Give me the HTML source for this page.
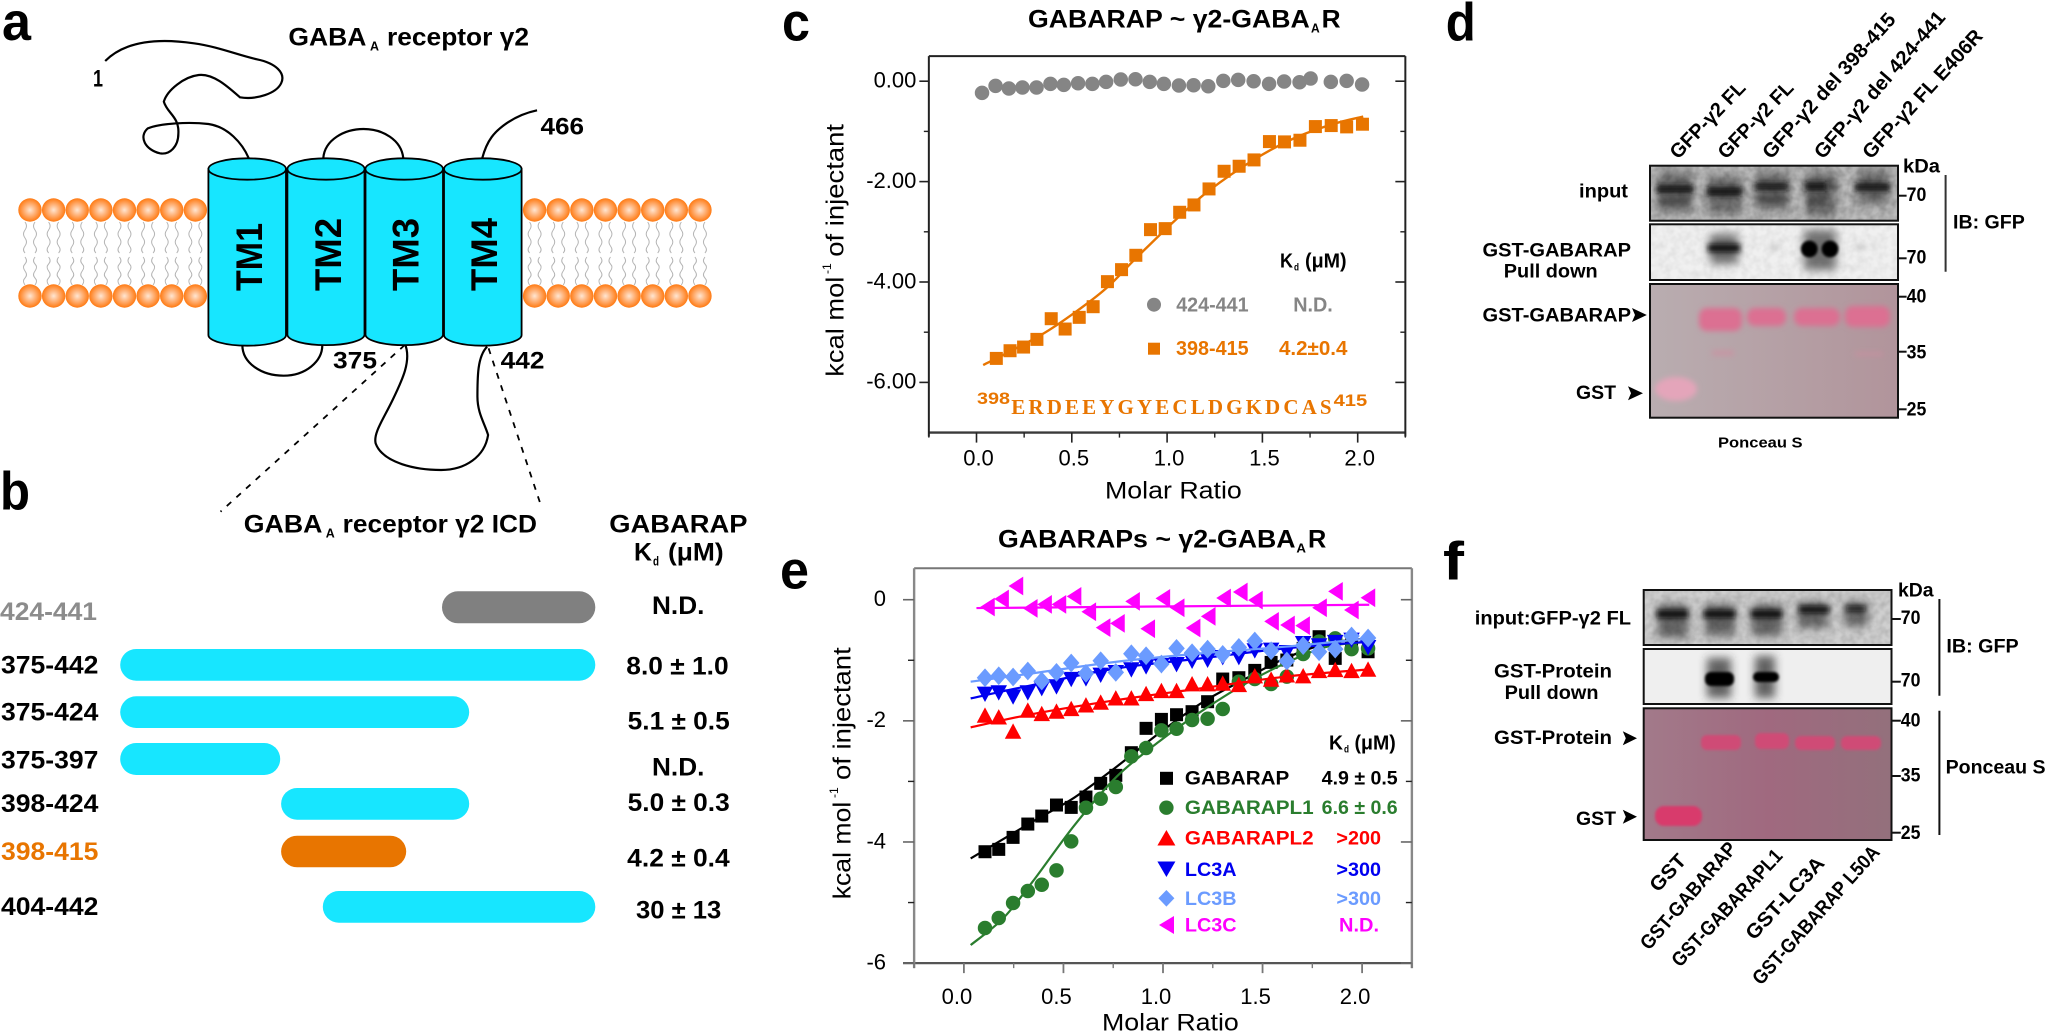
<!DOCTYPE html>
<html lang="en">
<head>
<meta charset="utf-8">
<title>GABARAP binding to GABA-A receptor gamma2</title>
<style>
html,body{margin:0;padding:0;background:#fff}
svg{display:block}
text{font-family:"Liberation Sans","DejaVu Sans",sans-serif;fill:#000}
.b{font-weight:700}
.t{font-weight:700;font-size:25px}
.s{font-weight:700;font-size:19px}
.r{font-weight:700;font-size:20px}
.sub{font-weight:700;font-size:13px}
.p{font-weight:700;font-size:54px}
.m{font-weight:700;font-size:20px}
.o{fill:#e87500}
.g{fill:#858585}
.nsc path,.nsc line{vector-effect:non-scaling-stroke}
</style>
</head>
<body>
<svg id="fig" xmlns="http://www.w3.org/2000/svg" width="2046" height="1032" viewBox="0 0 2046 1032">
<defs>
<radialGradient id="head" cx="50%" cy="50%" r="50%">
<stop offset="0" stop-color="#ffe6d2"/><stop offset=".45" stop-color="#ffb47c"/><stop offset="1" stop-color="#ff7a12"/>
</radialGradient>
<filter id="b1" x="-30%" y="-60%" width="160%" height="220%"><feGaussianBlur stdDeviation="1.3"/></filter>
<filter id="b2" x="-30%" y="-80%" width="160%" height="260%"><feGaussianBlur stdDeviation="2.6"/></filter>
<filter id="b5" x="-50%" y="-50%" width="200%" height="200%"><feGaussianBlur stdDeviation="4.5"/></filter>
<filter id="noise" x="0" y="0" width="100%" height="100%"><feTurbulence type="fractalNoise" baseFrequency="0.14" numOctaves="2" seed="4"/><feColorMatrix type="matrix" values="0 0 0 0 0  0 0 0 0 0  0 0 0 0 0  0 0 0 .9 -.28"/></filter>
<linearGradient id="pdbg" x1="0" x2="1" y1="0" y2="0"><stop offset="0" stop-color="#b9adb0"/><stop offset="1" stop-color="#b1949b"/></linearGradient>
<linearGradient id="pfbg" x1="0" x2="1" y1="0" y2="0"><stop offset="0" stop-color="#a27a8a"/><stop offset=".5" stop-color="#a0697f"/><stop offset="1" stop-color="#93707c"/></linearGradient>
<clipPath id="cd1"><rect x="1650" y="165.7" width="248" height="55"/></clipPath>
<clipPath id="cd2"><rect x="1650" y="224.3" width="248" height="55.7"/></clipPath>
<clipPath id="cd3"><rect x="1650" y="284" width="248" height="133.7"/></clipPath>
<clipPath id="cf1"><rect x="1643.7" y="590" width="247.8" height="55"/></clipPath>
<clipPath id="cf2"><rect x="1643.7" y="649" width="247.8" height="55"/></clipPath>
<clipPath id="cf3"><rect x="1643.7" y="708.3" width="247.8" height="131.7"/></clipPath>
<g id="tail" fill="none" stroke="#b4b4b4" stroke-width="1">
<path d="M-5,222 q3,4 0,8 t0,8 t0,8 t0,7"/><path d="M5,222 q-3,4 0,8 t0,8 t0,8 t0,7"/>
<path d="M-5,257 q3,4 0,7 t0,7 t0,7 t0,7"/><path d="M5,257 q-3,4 0,7 t0,7 t0,7 t0,7"/>
</g>
</defs>

<!-- panel a -->
<g id="panel-a">
<text class="p" x="2" y="40" textLength="29" lengthAdjust="spacingAndGlyphs">a</text>
<text class="t" x="288.4" y="45.7" textLength="78" lengthAdjust="spacingAndGlyphs">GABA</text>
<text class="sub" x="370" y="50.5" textLength="9" lengthAdjust="spacingAndGlyphs">A</text>
<text class="t" x="387" y="45.7" textLength="142" lengthAdjust="spacingAndGlyphs">receptor γ2</text>
<g id="lipids"></g>
<g class="nsc" transform="scale(.4847 .33333)" fill="none" stroke="#000" stroke-width="2.2">
<path d="M217,183 C260,120 330,115 400,130 C450,140 490,165 530,178 C570,190 590,220 580,250 C570,280 530,300 495,292 C470,260 440,220 410,225 C380,230 345,270 338,305 C345,340 370,350 368,400 C368,440 350,465 330,460 C300,450 285,410 305,385 C330,370 390,365 430,372 C470,380 500,430 513,474"/>
<path d="M667,474 C670,420 710,387 750,387 C790,387 828,420 832,474"/>
<path d="M995,474 C1005,420 1020,395 1045,370 C1065,350 1085,338 1108,331"/>
<path d="M500,1035 C500,1090 540,1127 585,1127 C630,1127 665,1085 665,1035"/>
<path d="M835,1030 C850,1080 830,1140 810,1200 C790,1260 770,1300 775,1330 C790,1390 860,1410 910,1410 C960,1410 1000,1370 1007,1305 C1000,1270 985,1240 985,1190 C985,1130 985,1070 1005,1040"/>
<path stroke-width="1.8" stroke-dasharray="6 7" d="M835,1035 L455,1535"/>
<path stroke-width="1.8" stroke-dasharray="6 7" d="M1008,1045 L1118,1525"/>
</g>
<g fill="#17e6ff" stroke="#000" stroke-width="1.8">
<g><path d="M208.4,169 V335 A38.8,10.7 0 0 0 286,335 V169 Z"/><ellipse cx="247.2" cy="169" rx="38.8" ry="10.7"/></g>
<g><path d="M287.4,169 V335 A38.6,10.7 0 0 0 364.5,335 V169 Z"/><ellipse cx="326" cy="169" rx="38.6" ry="10.7"/></g>
<g><path d="M365.5,169 V335 A38.8,10.7 0 0 0 443,335 V169 Z"/><ellipse cx="404.2" cy="169" rx="38.8" ry="10.7"/></g>
<g><path d="M444,169 V335 A38.8,10.7 0 0 0 521.6,335 V169 Z"/><ellipse cx="482.8" cy="169" rx="38.8" ry="10.7"/></g>
</g>
<g class="b" font-size="37">
<text transform="translate(262,291) rotate(-90)" textLength="68" lengthAdjust="spacingAndGlyphs">TM1</text>
<text transform="translate(341,291) rotate(-90)" textLength="73" lengthAdjust="spacingAndGlyphs">TM2</text>
<text transform="translate(418.3,291) rotate(-90)" textLength="73" lengthAdjust="spacingAndGlyphs">TM3</text>
<text transform="translate(497,291) rotate(-90)" textLength="73" lengthAdjust="spacingAndGlyphs">TM4</text>
</g>
<g class="b" font-size="24">
<text x="93" y="86.7" textLength="10" lengthAdjust="spacingAndGlyphs">1</text>
<text x="540.5" y="134.3" textLength="43.5" lengthAdjust="spacingAndGlyphs">466</text>
<text x="333" y="368.3" textLength="44" lengthAdjust="spacingAndGlyphs">375</text>
<text x="500.7" y="368.3" textLength="43.7" lengthAdjust="spacingAndGlyphs">442</text>
</g>
</g>

<!-- panel b -->
<g id="panel-b">
<text class="p" x="0" y="509.3" textLength="30" lengthAdjust="spacingAndGlyphs">b</text>
<text class="t" x="243.8" y="532.3" textLength="78.6" lengthAdjust="spacingAndGlyphs">GABA</text>
<text class="sub" x="325.7" y="537.3" textLength="9" lengthAdjust="spacingAndGlyphs">A</text>
<text class="t" x="342.7" y="532.3" textLength="194.3" lengthAdjust="spacingAndGlyphs">receptor γ2 ICD</text>
<text class="t" x="609.3" y="532.3" textLength="138.2" lengthAdjust="spacingAndGlyphs">GABARAP</text>
<text class="t" x="634" y="560.7" textLength="18" lengthAdjust="spacingAndGlyphs">K</text>
<text class="sub" x="653" y="565.3" textLength="6" lengthAdjust="spacingAndGlyphs">d</text>
<text class="t" x="668" y="560.7" textLength="55.7" lengthAdjust="spacingAndGlyphs">(μM)</text>

<rect x="442" y="591.3" width="153.3" height="32" rx="16" fill="#808080"/>
<rect x="120.2" y="649" width="475.1" height="31.7" rx="16" fill="#17e6ff"/>
<rect x="120.2" y="696.3" width="349" height="31.7" rx="16" fill="#17e6ff"/>
<rect x="120.2" y="743" width="160" height="32" rx="16" fill="#17e6ff"/>
<rect x="281.1" y="788" width="188.1" height="31.7" rx="16" fill="#17e6ff"/>
<rect x="281.1" y="835.7" width="125.1" height="31.6" rx="16" fill="#e87500"/>
<rect x="322.8" y="891" width="272.5" height="31.7" rx="16" fill="#17e6ff"/>

<g class="b" font-size="25">
<text x="0" y="620" textLength="97" lengthAdjust="spacingAndGlyphs" style="fill:#8c8c8c">424-441</text>
<text x="1" y="673.3" textLength="97.4" lengthAdjust="spacingAndGlyphs">375-442</text>
<text x="1" y="720.7" textLength="97.4" lengthAdjust="spacingAndGlyphs">375-424</text>
<text x="1" y="768.7" textLength="97.4" lengthAdjust="spacingAndGlyphs">375-397</text>
<text x="1" y="812" textLength="97.4" lengthAdjust="spacingAndGlyphs">398-424</text>
<text x="1" y="860" textLength="97.4" lengthAdjust="spacingAndGlyphs" class="o">398-415</text>
<text x="1" y="915" textLength="97.4" lengthAdjust="spacingAndGlyphs">404-442</text>
<text x="652" y="614" textLength="52.4" lengthAdjust="spacingAndGlyphs">N.D.</text>
<text x="626.3" y="674.3" textLength="102.3" lengthAdjust="spacingAndGlyphs">8.0 ± 1.0</text>
<text x="627.7" y="729.3" textLength="102" lengthAdjust="spacingAndGlyphs">5.1 ± 0.5</text>
<text x="652" y="775.3" textLength="52.4" lengthAdjust="spacingAndGlyphs">N.D.</text>
<text x="627.7" y="811" textLength="102" lengthAdjust="spacingAndGlyphs">5.0 ± 0.3</text>
<text x="627.2" y="866.7" textLength="102.5" lengthAdjust="spacingAndGlyphs">4.2 ± 0.4</text>
<text x="636" y="918.3" textLength="85.3" lengthAdjust="spacingAndGlyphs">30 ± 13</text>
</g>
</g>

<!-- panel c static text -->
<g id="panel-c">
<text class="p" x="782" y="40.7" textLength="28" lengthAdjust="spacingAndGlyphs">c</text>
<text class="t" x="1028" y="27.3" textLength="281.8" lengthAdjust="spacingAndGlyphs">GABARAP ~ γ2-GABA</text>
<text class="sub" x="1311" y="32.7" textLength="8.7" lengthAdjust="spacingAndGlyphs">A</text>
<text class="t" x="1321.7" y="27.3" textLength="19" lengthAdjust="spacingAndGlyphs">R</text>
<g id="chart-c"></g>
<text font-size="25" transform="translate(843.3,376.7) rotate(-90)" textLength="100" lengthAdjust="spacingAndGlyphs">kcal mol</text>
<text font-size="12" transform="translate(831,274) rotate(-90)">-1</text>
<text font-size="25" transform="translate(843.3,256.7) rotate(-90)" textLength="132.7" lengthAdjust="spacingAndGlyphs">of injectant</text>
<text font-size="24" x="1105" y="498.3" textLength="136.8" lengthAdjust="spacingAndGlyphs">Molar Ratio</text>
<text class="m" x="1280" y="267.7" textLength="13" lengthAdjust="spacingAndGlyphs">K</text>
<text class="b" font-size="10" x="1294" y="270.7" textLength="5" lengthAdjust="spacingAndGlyphs">d</text>
<text class="m" x="1305" y="267.7" textLength="41.6" lengthAdjust="spacingAndGlyphs">(μM)</text>
<circle cx="1154" cy="304.7" r="7" fill="#858585"/>
<text class="m g" x="1176.2" y="311.7" textLength="72.4" lengthAdjust="spacingAndGlyphs">424-441</text>
<text class="m g" x="1293.2" y="311.7" textLength="39.6" lengthAdjust="spacingAndGlyphs">N.D.</text>
<rect x="1148" y="342.7" width="12" height="12" fill="#e87500"/>
<text class="m o" x="1176" y="355" textLength="72.6" lengthAdjust="spacingAndGlyphs">398-415</text>
<text class="m o" x="1279" y="355" textLength="68.4" lengthAdjust="spacingAndGlyphs">4.2±0.4</text>
<text class="b o" font-size="17" x="977" y="404" textLength="33" lengthAdjust="spacingAndGlyphs">398</text>
<text class="o" font-size="21" style="font-family:'Liberation Serif',serif;font-weight:700" x="1011.3" y="414" textLength="320.3" lengthAdjust="spacing">ERDEEYGYECLDGKDCAS</text>
<text class="b o" font-size="17" x="1333.6" y="406" textLength="33.6" lengthAdjust="spacingAndGlyphs">415</text>
</g>

<!-- panel e static text -->
<g id="panel-e">
<text class="p" x="780" y="588.3" textLength="29" lengthAdjust="spacingAndGlyphs">e</text>
<text class="t" x="998" y="547.3" textLength="297.6" lengthAdjust="spacingAndGlyphs">GABARAPs ~ γ2-GABA</text>
<text class="sub" x="1296.4" y="552.3" textLength="9.6" lengthAdjust="spacingAndGlyphs">A</text>
<text class="t" x="1308" y="547.3" textLength="18.3" lengthAdjust="spacingAndGlyphs">R</text>
<g id="chart-e"></g>
<text font-size="25" transform="translate(850.7,899.3) rotate(-90)" textLength="97.6" lengthAdjust="spacingAndGlyphs">kcal mol</text>
<text font-size="12" transform="translate(838,798) rotate(-90)">-1</text>
<text font-size="25" transform="translate(850.7,780) rotate(-90)" textLength="132.7" lengthAdjust="spacingAndGlyphs">of injectant</text>
<text font-size="24" x="1102" y="1030.7" textLength="136.8" lengthAdjust="spacingAndGlyphs">Molar Ratio</text>
<text class="m" x="1329" y="749.3" textLength="14" lengthAdjust="spacingAndGlyphs">K</text>
<text class="b" font-size="10" x="1344" y="752.3" textLength="5" lengthAdjust="spacingAndGlyphs">d</text>
<text class="m" x="1354.5" y="749.3" textLength="41.2" lengthAdjust="spacingAndGlyphs">(μM)</text>
<g class="b" font-size="19">
<rect x="1160" y="771.8" width="13" height="13" fill="#000"/>
<text x="1184.9" y="784.3" textLength="104.4" lengthAdjust="spacingAndGlyphs">GABARAP</text>
<text x="1321.7" y="784.3" textLength="76" lengthAdjust="spacingAndGlyphs">4.9 ± 0.5</text>
<circle cx="1166.4" cy="807.7" r="7.2" fill="#2a7d2e"/>
<text x="1184.9" y="814" textLength="128.8" lengthAdjust="spacingAndGlyphs" style="fill:#2a7d2e">GABARAPL1</text>
<text x="1321.7" y="814" textLength="76" lengthAdjust="spacingAndGlyphs" style="fill:#2a7d2e">6.6 ± 0.6</text>
<polygon points="1166.4,830 1175.4,845.5 1157.4,845.5" fill="#f00"/>
<text x="1184.9" y="844.3" textLength="128.8" lengthAdjust="spacingAndGlyphs" style="fill:#f00">GABARAPL2</text>
<text x="1336.4" y="844.3" textLength="44.6" lengthAdjust="spacingAndGlyphs" style="fill:#f00">&gt;200</text>
<polygon points="1157.4,861.5 1175.4,861.5 1166.4,877" fill="#0000f0"/>
<text x="1184.9" y="876" textLength="51.7" lengthAdjust="spacingAndGlyphs" style="fill:#0000f0">LC3A</text>
<text x="1336.4" y="876" textLength="44.6" lengthAdjust="spacingAndGlyphs" style="fill:#0000f0">&gt;300</text>
<polygon points="1166.4,890 1174.4,898.3 1166.4,906.6 1158.4,898.3" fill="#6b9bff"/>
<text x="1184.9" y="905" textLength="51.7" lengthAdjust="spacingAndGlyphs" style="fill:#6b9bff">LC3B</text>
<text x="1336.4" y="905" textLength="44.6" lengthAdjust="spacingAndGlyphs" style="fill:#6b9bff">&gt;300</text>
<polygon points="1174,916 1174,934 1159,925" fill="#ff00ff"/>
<text x="1184.9" y="931.7" textLength="51.7" lengthAdjust="spacingAndGlyphs" style="fill:#ff00ff">LC3C</text>
<text x="1339" y="931.7" textLength="40" lengthAdjust="spacingAndGlyphs" style="fill:#ff00ff">N.D.</text>
</g>
</g>

<!-- panel d -->
<g id="panel-d">
<text class="p" x="1445.8" y="40.7" textLength="30" lengthAdjust="spacingAndGlyphs">d</text>
<g class="r">
<text transform="translate(1678,160) rotate(-46)" textLength="99" lengthAdjust="spacingAndGlyphs">GFP-γ2 FL</text>
<text transform="translate(1726,160) rotate(-46)" textLength="99" lengthAdjust="spacingAndGlyphs">GFP-γ2 FL</text>
<text transform="translate(1771,160) rotate(-48)" textLength="188" lengthAdjust="spacingAndGlyphs">GFP-γ2 del 398-415</text>
<text transform="translate(1823,160) rotate(-49)" textLength="188" lengthAdjust="spacingAndGlyphs">GFP-γ2 del 424-441</text>
<text transform="translate(1871,160) rotate(-47.5)" textLength="167" lengthAdjust="spacingAndGlyphs">GFP-γ2 FL E406R</text>
</g>
<g>
<g clip-path="url(#cd1)">
<rect x="1650" y="165.7" width="248" height="55" fill="#bcbcbc"/>
<g fill="#5a5a5a" opacity=".8" filter="url(#b5)"><rect x="1658" y="172" width="34" height="40"/><rect x="1708" y="176" width="33" height="38"/><rect x="1756" y="172" width="32" height="38"/><rect x="1806" y="172" width="30" height="44"/><rect x="1858" y="170" width="30" height="34"/></g>
<rect x="1650" y="165.7" width="248" height="55" filter="url(#noise)" opacity=".4"/>
<g fill="#161616" filter="url(#b2)"><rect x="1657" y="185" width="36" height="8"/><rect x="1707" y="187" width="35" height="9"/><rect x="1755" y="183" width="33" height="7"/><rect x="1805" y="182" width="22" height="9"/><rect x="1855" y="183" width="35" height="8"/></g>
<g fill="#333" opacity=".55" filter="url(#b2)"><rect x="1757" y="195" width="30" height="8"/><rect x="1808" y="196" width="18" height="9"/><rect x="1827" y="183" width="10" height="6"/><rect x="1660" y="197" width="30" height="7"/></g>
</g>
<rect x="1650" y="165.7" width="248" height="55" fill="none" stroke="#111" stroke-width="2"/>
</g>
<g>
<g clip-path="url(#cd2)">
<rect x="1650" y="224.3" width="248" height="55.7" fill="#f0f0f0"/>
<rect x="1650" y="224.3" width="248" height="55.7" filter="url(#noise)" opacity=".12"/>
<g fill="#444" opacity=".75" filter="url(#b5)"><rect x="1710" y="234" width="28" height="30"/><rect x="1804" y="230" width="32" height="40"/></g>
<rect x="1708" y="244" width="32" height="8" fill="#111" filter="url(#b2)"/>
<g fill="#000" filter="url(#b1)"><circle cx="1809.3" cy="249" r="8.4"/><circle cx="1830" cy="249" r="8.4"/></g>
<g fill="#bbb" opacity=".5" filter="url(#b2)"><rect x="1768" y="244" width="12" height="6"/><rect x="1855" y="244" width="12" height="6"/></g>
</g>
<rect x="1650" y="224.3" width="248" height="55.7" fill="none" stroke="#111" stroke-width="2"/>
</g>
<g>
<g clip-path="url(#cd3)">
<rect x="1650" y="284" width="248" height="133.7" fill="url(#pdbg)"/>
<g fill="#dc6f92" filter="url(#b2)"><rect x="1699" y="308" width="43" height="23" rx="8"/><rect x="1747" y="308" width="39" height="18" rx="8"/><rect x="1794" y="308" width="46" height="18" rx="8"/><rect x="1845" y="306" width="45" height="21" rx="8"/></g>
<ellipse cx="1676" cy="389" rx="21" ry="12" fill="#e4a5ba" filter="url(#b2)"/>
<g fill="#cf8ea0" opacity=".6" filter="url(#b2)"><rect x="1712" y="350" width="22" height="6"/><rect x="1855" y="352" width="28" height="4"/></g>
</g>
<rect x="1650" y="284" width="248" height="133.7" fill="none" stroke="#111" stroke-width="2"/>
</g>
<g stroke="#111" stroke-width="2">
<line x1="1899" x2="1906.6" y1="195.7" y2="195.7"/><line x1="1899" x2="1906.6" y1="258.3" y2="258.3"/><line x1="1899" x2="1906.6" y1="296.7" y2="296.7"/><line x1="1899" x2="1906.6" y1="351.7" y2="351.7"/><line x1="1899" x2="1906.6" y1="409.3" y2="409.3"/>
</g>
<g class="s">
<text x="1903" y="172.3" textLength="37" lengthAdjust="spacingAndGlyphs">kDa</text>
<text x="1906.6" y="201" textLength="19.7" lengthAdjust="spacingAndGlyphs">70</text>
<text x="1906.6" y="263.3" textLength="19.7" lengthAdjust="spacingAndGlyphs">70</text>
<text x="1906.6" y="302.3" textLength="19.7" lengthAdjust="spacingAndGlyphs">40</text>
<text x="1906.6" y="358.3" textLength="19.7" lengthAdjust="spacingAndGlyphs">35</text>
<text x="1906.6" y="415.7" textLength="19.7" lengthAdjust="spacingAndGlyphs">25</text>
<text x="1953" y="228.3" textLength="71.8" lengthAdjust="spacingAndGlyphs">IB: GFP</text>
<text x="1579" y="197.3" textLength="49" lengthAdjust="spacingAndGlyphs">input</text>
<text x="1482.5" y="256.7" textLength="148.5" lengthAdjust="spacingAndGlyphs">GST-GABARAP</text>
<text x="1503.8" y="277.7" textLength="93.9" lengthAdjust="spacingAndGlyphs">Pull down</text>
<text x="1482.5" y="321.7" textLength="148.5" lengthAdjust="spacingAndGlyphs">GST-GABARAP</text>
<text x="1576" y="399" textLength="40" lengthAdjust="spacingAndGlyphs">GST</text>
</g>
<text class="b" font-size="15" x="1718" y="447.3" textLength="84.6" lengthAdjust="spacingAndGlyphs">Ponceau S</text>
<polygon points="1632,308 1646.8,315 1632,322 1635,315" fill="#000"/>
<polygon points="1628,386.3 1643,393.3 1628,400.3 1631,393.3" fill="#000"/>
<line x1="1945.6" x2="1945.6" y1="175" y2="271.7" stroke="#333" stroke-width="2"/>
</g>

<!-- panel f -->
<g id="panel-f">
<text class="p" x="1443" y="579.3" textLength="21" lengthAdjust="spacingAndGlyphs">f</text>
<g>
<g clip-path="url(#cf1)">
<rect x="1643.7" y="590" width="247.8" height="55" fill="#cfcfcf"/>
<g fill="#4c4c4c" opacity=".8" filter="url(#b5)"><rect x="1658" y="604" width="30" height="34"/><rect x="1705" y="604" width="30" height="32"/><rect x="1752" y="604" width="30" height="32"/><rect x="1798" y="602" width="30" height="26"/><rect x="1844" y="602" width="24" height="24"/></g>
<rect x="1643.7" y="590" width="247.8" height="55" filter="url(#noise)" opacity=".25"/>
<g fill="#0d0d0d" filter="url(#b2)"><rect x="1657" y="610" width="31" height="8"/><rect x="1704" y="610" width="31" height="8"/><rect x="1751" y="610" width="31" height="8"/><rect x="1799" y="606" width="30" height="7"/><rect x="1847" y="606" width="18" height="5"/></g>
</g>
<rect x="1643.7" y="590" width="247.8" height="55" fill="none" stroke="#111" stroke-width="2"/>
</g>
<g>
<g clip-path="url(#cf2)">
<rect x="1643.7" y="649" width="247.8" height="55" fill="#efefef"/>
<g fill="#333" opacity=".75" filter="url(#b5)"><rect x="1707" y="658" width="24" height="40"/><rect x="1755" y="656" width="20" height="42"/></g>
<g fill="#000" filter="url(#b1)"><rect x="1705" y="672" width="29" height="14" rx="6"/><rect x="1753" y="672" width="26" height="10" rx="5"/></g>
</g>
<rect x="1643.7" y="649" width="247.8" height="55" fill="none" stroke="#111" stroke-width="2"/>
</g>
<g>
<g clip-path="url(#cf3)">
<rect x="1643.7" y="708.3" width="247.8" height="131.7" fill="url(#pfbg)"/>
<g fill="#cf4c76" filter="url(#b1)"><rect x="1701" y="735" width="40" height="15" rx="6"/><rect x="1755" y="733" width="34" height="16" rx="6"/><rect x="1795" y="736" width="40" height="14" rx="6"/><rect x="1841" y="736" width="40" height="14" rx="6"/></g>
<rect x="1655" y="806" width="47" height="20" rx="9" fill="#d83a6c" filter="url(#b1)"/>
</g>
<rect x="1643.7" y="708.3" width="247.8" height="131.7" fill="none" stroke="#111" stroke-width="2"/>
</g>
<g stroke="#111" stroke-width="2">
<line x1="1892" x2="1900.8" y1="619" y2="619"/><line x1="1892" x2="1900.8" y1="681.7" y2="681.7"/><line x1="1892" x2="1900.8" y1="720.7" y2="720.7"/><line x1="1892" x2="1900.8" y1="776" y2="776"/><line x1="1892" x2="1900.8" y1="832.7" y2="832.7"/>
</g>
<g class="s">
<text x="1898" y="596.7" textLength="35.6" lengthAdjust="spacingAndGlyphs">kDa</text>
<text x="1900.8" y="624" textLength="19.7" lengthAdjust="spacingAndGlyphs">70</text>
<text x="1900.8" y="686.7" textLength="19.7" lengthAdjust="spacingAndGlyphs">70</text>
<text x="1900.8" y="726.7" textLength="19.7" lengthAdjust="spacingAndGlyphs">40</text>
<text x="1900.8" y="781.7" textLength="19.7" lengthAdjust="spacingAndGlyphs">35</text>
<text x="1900.8" y="839" textLength="19.7" lengthAdjust="spacingAndGlyphs">25</text>
<text x="1946.4" y="652.3" textLength="72.3" lengthAdjust="spacingAndGlyphs">IB: GFP</text>
<text x="1945.6" y="773.3" textLength="100" lengthAdjust="spacingAndGlyphs">Ponceau S</text>
<text x="1474.8" y="624.7" textLength="156.2" lengthAdjust="spacingAndGlyphs">input:GFP-γ2 FL</text>
<text x="1494" y="677.3" textLength="118" lengthAdjust="spacingAndGlyphs">GST-Protein</text>
<text x="1504.6" y="699" textLength="93.9" lengthAdjust="spacingAndGlyphs">Pull down</text>
<text x="1494" y="744" textLength="118" lengthAdjust="spacingAndGlyphs">GST-Protein</text>
<text x="1576" y="825" textLength="40" lengthAdjust="spacingAndGlyphs">GST</text>
</g>
<g class="r">
<text transform="translate(1658,893) rotate(-47)" textLength="43" lengthAdjust="spacingAndGlyphs">GST</text>
<text transform="translate(1649,951) rotate(-49)" textLength="135" lengthAdjust="spacingAndGlyphs">GST-GABARAP</text>
<text transform="translate(1680,968) rotate(-47)" textLength="152" lengthAdjust="spacingAndGlyphs">GST-GABARAPL1</text>
<text transform="translate(1754,941) rotate(-47)" textLength="105" lengthAdjust="spacingAndGlyphs">GST-LC3A</text>
<text transform="translate(1761,986) rotate(-48)" textLength="179" lengthAdjust="spacingAndGlyphs">GST-GABARAP L50A</text>
</g>
<polygon points="1622.8,731.3 1637,738.3 1622.8,745.3 1625.8,738.3" fill="#000"/>
<polygon points="1622.8,809.7 1637,816.7 1622.8,823.7 1625.8,816.7" fill="#000"/>
<line x1="1939.4" x2="1939.4" y1="599" y2="695.7" stroke="#111" stroke-width="2"/>
<line x1="1939.4" x2="1939.4" y1="710.7" y2="835" stroke="#111" stroke-width="2"/>
</g>
</svg>

<script>
// ---- chart c data ----
const cXTicks = [0, 0.5, 1, 1.5, 2];
const cXTickLabels = ["0.0", "0.5", "1.0", "1.5", "2.0"];
const cXMinor = [-0.25, 0.25, 0.75, 1.25, 1.75, 2.25];
const cYTicks = [0, -2, -4, -6];
const cYTickLabels = ["0.00", "-2.00", "-4.00", "-6.00"];
const cYMinor = [-1, -3, -5];
const c424Ratio = [0.029,0.10,0.17,0.241,0.315,0.388,0.458,0.533,0.608,0.68,0.757,0.834,0.909,0.983,1.062,1.139,1.216,1.295,1.373,1.454,1.535,1.614,1.695,1.753,1.859,1.942,2.023];
const c424Heat = [-0.233,-0.093,-0.146,-0.126,-0.126,-0.053,-0.073,-0.04,-0.053,-0.013,0.033,0.04,-0.013,-0.053,-0.086,-0.08,-0.1,0.007,0.027,0,-0.053,-0.007,-0.02,0.053,-0.013,0.007,-0.066];
const c398Ratio = [0.104,0.176,0.247,0.317,0.392,0.465,0.539,0.612,0.687,0.761,0.836,0.913,0.990,1.066,1.141,1.220,1.299,1.378,1.456,1.537,1.616,1.697,1.778,1.861,1.942,2.025];
const c398Heat = [-5.522,-5.369,-5.296,-5.143,-4.731,-4.937,-4.704,-4.492,-3.993,-3.754,-3.468,-2.957,-2.937,-2.611,-2.465,-2.146,-1.794,-1.694,-1.568,-1.203,-1.209,-1.176,-0.904,-0.884,-0.910,-0.857];
const c398FitRatio = [0.035,0.338,0.546,0.69,0.836,1.044,1.22,1.459,1.666,1.873,2.029];
const c398FitHeat = [-5.654,-5.056,-4.525,-4.093,-3.528,-2.764,-2.179,-1.555,-1.136,-0.851,-0.704];

// ---- chart e data ----
const eXTicks = [0, 0.5, 1, 1.5, 2];
const eXTickLabels = ["0.0", "0.5", "1.0", "1.5", "2.0"];
const eXMinor = [-0.25, 0.25, 0.75, 1.25, 1.75, 2.25];
const eYTicks = [0, -2, -4, -6];
const eYTickLabels = ["0", "-2", "-4", "-6"];
const eYMinor = [-1, -3, -5];
const eRatio = [0.106,0.175,0.247,0.321,0.391,0.465,0.539,0.613,0.687,0.763,0.841,0.915,0.992,1.068,1.146,1.224,1.300,1.381,1.461,1.543,1.622,1.704,1.784,1.865,1.947,2.030];
const eLc3cRatio = [0.121,0.192,0.264,0.336,0.408,0.480,0.556,0.630,0.702,0.774,0.850,0.926,1.002,1.074,1.154,1.230,1.307,1.391,1.467,1.548,1.628,1.704,1.789,1.869,1.949,2.032];
const eGabarap = [-4.161,-4.122,-3.924,-3.704,-3.572,-3.390,-3.429,-3.258,-3.032,-2.900,-2.526,-2.124,-1.976,-1.899,-1.849,-1.684,-1.310,-1.288,-1.167,-1.035,-0.996,-0.804,-0.611,-0.969,-0.748,-0.859];
const eGabarapl1 = [-5.421,-5.256,-5.008,-4.810,-4.706,-4.469,-3.990,-3.434,-3.286,-3.093,-2.587,-2.449,-2.157,-2.130,-1.987,-1.965,-1.805,-1.354,-1.310,-1.392,-1.271,-0.897,-0.693,-0.638,-0.815,-0.804];
const eGabarapl2 = [-1.921,-1.948,-2.185,-1.838,-1.893,-1.855,-1.811,-1.750,-1.706,-1.635,-1.635,-1.563,-1.513,-1.513,-1.403,-1.403,-1.392,-1.414,-1.271,-1.326,-1.255,-1.271,-1.183,-1.167,-1.183,-1.161];
const eLc3a = [-1.546,-1.524,-1.591,-1.524,-1.453,-1.425,-1.304,-1.293,-1.233,-1.189,-1.145,-1.095,-1.073,-1.057,-1.002,-0.985,-0.941,-0.941,-0.831,-0.820,-0.859,-0.710,-0.748,-0.693,-0.655,-0.776];
const eLc3b = [-1.288,-1.255,-1.277,-1.178,-1.343,-1.200,-1.046,-1.216,-1.007,-1.200,-0.892,-0.925,-1.062,-0.804,-0.875,-0.815,-0.903,-0.787,-0.682,-0.842,-1.013,-0.759,-0.859,-0.815,-0.600,-0.633];
const eLc3c = [-0.121,0.011,0.226,-0.143,-0.077,-0.077,0.055,-0.198,-0.462,-0.391,-0.028,-0.479,0.022,-0.132,-0.468,-0.275,0.028,0.127,-0.006,-0.358,-0.418,-0.429,-0.132,0.138,-0.171,0.033];
const eFitGreenRatio = [0.034,0.197,0.345,0.556,0.767,0.979,1.190,1.402,1.613,1.825,2.036];
const eFitGreen = [-5.702,-5.261,-4.656,-3.720,-2.922,-2.345,-1.849,-1.409,-1.051,-0.776,-0.693];
const eFitBlackRatio = [0.034,0.345,0.556,0.767,0.979,1.190,1.402,1.613,1.825,2.036];
const eFitBlack = [-4.271,-3.665,-3.264,-2.757,-2.207,-1.712,-1.326,-0.969,-0.721,-0.638];
const eFitOtherRatio = [0.034,0.345,0.767,1.190,1.613,2.036];
const eFitRed = [-2.108,-1.888,-1.657,-1.464,-1.271,-1.150];
const eFitBlue = [-1.629,-1.409,-1.134,-0.969,-0.804,-0.693];
const eFitLightBlue = [-1.354,-1.216,-1.024,-0.886,-0.776,-0.638];
const eFitMagentaRatio = [0.063, 2.036];
const eFitMagenta = [-0.138, -0.083];

const NS = 'http://www.w3.org/2000/svg';

function line(parent, x1, y1, x2, y2, color, width, name) {
  const el = document.createElementNS(NS, 'line');
  
  
  el.setAttribute('x1', x1); el.setAttribute('y1', y1);
  el.setAttribute('x2', x2); el.setAttribute('y2', y2);
  el.setAttribute('stroke', color); el.setAttribute('stroke-width', width);
  parent.appendChild(el);
}
function label(parent, x, y, anchor, str, name) {
  const el = document.createElementNS(NS, 'text');
  
  
  el.setAttribute('x', x); el.setAttribute('y', y);
  el.setAttribute('text-anchor', anchor);
  el.setAttribute('font-size', '22');
  el.textContent = str;
  parent.appendChild(el);
}
function curve(parent, xs, ys, sx, sy, color, width, name) {
  const p = xs.map((v, i) => [sx(v), sy(ys[i])]);
  let d = 'M' + p[0][0] + ',' + p[0][1];
  for (let i = 0; i < p.length - 1; i++) {
    const a = p[Math.max(i - 1, 0)], b = p[i], c = p[i + 1], e = p[Math.min(i + 2, p.length - 1)];
    d += ' C' + (b[0] + (c[0] - a[0]) / 6) + ',' + (b[1] + (c[1] - a[1]) / 6) + ' ' +
         (c[0] - (e[0] - b[0]) / 6) + ',' + (c[1] - (e[1] - b[1]) / 6) + ' ' + c[0] + ',' + c[1];
  }
  const el = document.createElementNS(NS, 'path');
  
  
  el.setAttribute('d', d);
  el.setAttribute('fill', 'none');
  el.setAttribute('stroke', color);
  el.setAttribute('stroke-width', width);
  parent.appendChild(el);
}
function marks(parent, xs, ys, sx, sy, shape, size, color, name) {
  xs.forEach((v, i) => {
    const cx = sx(v), cy = sy(ys[i]), s = size / 2;
    let el;
    if (shape === 'circle') {
      el = document.createElementNS(NS, 'circle');
      el.setAttribute('cx', cx); el.setAttribute('cy', cy); el.setAttribute('r', s);
    } else if (shape === 'square') {
      el = document.createElementNS(NS, 'rect');
      el.setAttribute('x', cx - s); el.setAttribute('y', cy - s);
      el.setAttribute('width', size); el.setAttribute('height', size);
    } else {
      const shapes = {
        up: [[0, -s * 1.15], [s * 1.1, s * .9], [-s * 1.1, s * .9]],
        down: [[-s * 1.1, -s * .9], [s * 1.1, -s * .9], [0, s * 1.15]],
        diamond: [[0, -s * 1.25], [s * 1.1, 0], [0, s * 1.25], [-s * 1.1, 0]],
        left: [[s * .9, -s * 1.25], [s * .9, s * 1.25], [-s * 1.05, 0]]
      };
      el = document.createElementNS(NS, 'polygon');
      el.setAttribute('points', shapes[shape].map(q => (cx + q[0]) + ',' + (cy + q[1])).join(' '));
    }
    
    
    el.setAttribute('fill', color);
    parent.appendChild(el);
  });
}

// ---- chart c axes ----
const gc = document.getElementById('chart-c');
const xC = v => 976.5 + 190.6 * v;
const yC = v => 81.2 - 50.2 * v;
const cTopV = 0.5, cBottomV = -7;
line(gc, xC(-0.25), yC(cTopV), xC(2.25), yC(cTopV), '#222', 2, 'chart-c-top-axis');
line(gc, xC(-0.25), yC(cBottomV), xC(2.25), yC(cBottomV), '#3a3a3a', 2.4, 'chart-c-x-axis');
line(gc, xC(-0.25), yC(cTopV), xC(-0.25), yC(cBottomV) + 4, '#222', 2, 'chart-c-y-axis');
line(gc, xC(2.25), yC(cTopV), xC(2.25), yC(cBottomV) + 4, '#222', 2, 'chart-c-right-axis');
cYTicks.forEach((v, i) => {
  line(gc, xC(-0.25) - 9.5, yC(v), xC(-0.25), yC(v), '#222', 1.6, 'chart-c-y-tick');
  line(gc, xC(2.25) - 10, yC(v), xC(2.25), yC(v), '#222', 1.6, 'chart-c-right-tick');
  label(gc, 916.4, yC(v) + 6.3, 'end', cYTickLabels[i], 'chart-c-y-tick-label');
});
cYMinor.forEach(v => {
  line(gc, xC(-0.25) - 5, yC(v), xC(-0.25), yC(v), '#222', 1.4, 'chart-c-y-minor-tick');
  line(gc, xC(2.25) - 5, yC(v), xC(2.25), yC(v), '#222', 1.4, 'chart-c-right-minor-tick');
});
cXTicks.forEach((v, i) => {
  line(gc, xC(v), yC(cBottomV), xC(v), yC(cBottomV) + 10, '#222', 1.6, 'chart-c-x-tick');
  label(gc, xC(v) + 2, 465.7, 'middle', cXTickLabels[i], 'chart-c-x-tick-label');
});
cXMinor.forEach(v => {
  line(gc, xC(v), yC(cBottomV), xC(v), yC(cBottomV) + 5, '#222', 1.4, 'chart-c-x-minor-tick');
});
marks(gc, c424Ratio, c424Heat, xC, yC, 'circle', 14.5, '#858585', 'series-424-441-point');
curve(gc, c398FitRatio, c398FitHeat, xC, yC, '#e87500', 2.4, 'series-398-415-fit');
marks(gc, c398Ratio, c398Heat, xC, yC, 'square', 13, '#e87500', 'series-398-415-point');

// ---- chart e axes ----
const ge = document.getElementById('chart-e');
const xE = v => 963.9 + 199.1 * v;
const yE = v => 599.7 - 60.57 * v;
const eTopV = 0.52, eBottomV = -6;
line(ge, xE(-0.25), yE(eTopV), xE(2.25), yE(eTopV), '#777', 2, 'chart-e-top-axis');
line(ge, 903, yE(eBottomV), xE(2.25), yE(eBottomV), '#555', 2.2, 'chart-e-x-axis');
line(ge, xE(-0.25), yE(eTopV), xE(-0.25), yE(eBottomV) + 5, '#888', 2.4, 'chart-e-y-axis');
line(ge, xE(2.25), yE(eTopV), xE(2.25), yE(eBottomV) + 5, '#888', 2.4, 'chart-e-right-axis');
eYTicks.forEach((v, i) => {
  line(ge, 903, yE(v), xE(-0.25), yE(v), '#666', 1.6, 'chart-e-y-tick');
  line(ge, xE(2.25) - 11, yE(v), xE(2.25), yE(v), '#666', 1.6, 'chart-e-right-tick');
  label(ge, 886, yE(v) + 6.3, 'end', eYTickLabels[i], 'chart-e-y-tick-label');
});
eYMinor.forEach(v => {
  line(ge, 908, yE(v), xE(-0.25), yE(v), '#222', 1.4, 'chart-e-y-minor-tick');
  line(ge, xE(2.25) - 6, yE(v), xE(2.25), yE(v), '#222', 1.4, 'chart-e-right-minor-tick');
});
eXTicks.forEach((v, i) => {
  line(ge, xE(v), yE(eBottomV), xE(v), yE(eBottomV) + 10, '#777', 1.8, 'chart-e-x-tick');
  label(ge, xE(v) - 7, 1004, 'middle', eXTickLabels[i], 'chart-e-x-tick-label');
});
eXMinor.forEach(v => {
  line(ge, xE(v), yE(eBottomV), xE(v), yE(eBottomV) + 5, '#777', 1.4, 'chart-e-x-minor-tick');
});
curve(ge, eFitBlackRatio, eFitBlack, xE, yE, '#000', 2.2, 'series-gabarap-fit');
marks(ge, eRatio, eGabarap, xE, yE, 'square', 13, '#000', 'series-gabarap-point');
curve(ge, eFitGreenRatio, eFitGreen, xE, yE, '#2a7d2e', 2.2, 'series-gabarapl1-fit');
marks(ge, eRatio, eGabarapl1, xE, yE, 'circle', 14.5, '#2a7d2e', 'series-gabarapl1-point');
curve(ge, eFitOtherRatio, eFitRed, xE, yE, '#f00', 2.2, 'series-gabarapl2-fit');
marks(ge, eRatio, eGabarapl2, xE, yE, 'up', 15, '#f00', 'series-gabarapl2-point');
curve(ge, eFitOtherRatio, eFitBlue, xE, yE, '#0000f0', 2.2, 'series-lc3a-fit');
marks(ge, eRatio, eLc3a, xE, yE, 'down', 15, '#0000f0', 'series-lc3a-point');
curve(ge, eFitOtherRatio, eFitLightBlue, xE, yE, '#6b9bff', 2.2, 'series-lc3b-fit');
marks(ge, eRatio, eLc3b, xE, yE, 'diamond', 15, '#6b9bff', 'series-lc3b-point');
curve(ge, eFitMagentaRatio, eFitMagenta, xE, yE, '#ff00ff', 2.2, 'series-lc3c-fit');
marks(ge, eLc3cRatio, eLc3c, xE, yE, 'left', 15, '#ff00ff', 'series-lc3c-point');

// ---- lipid bilayer ----
const lip = document.getElementById('lipids');
[[30, 8], [534.6, 8]].forEach(group => {
  for (let i = 0; i < group[1]; i++) {
    const cx = group[0] + i * 23.62;
    const t = document.createElementNS(NS, 'use');
    
    
    t.setAttribute('href', '#tail');
    t.setAttribute('x', cx);
    lip.appendChild(t);
    [210, 296].forEach(cy => {
      const h = document.createElementNS(NS, 'circle');
      
      
      h.setAttribute('cx', cx); h.setAttribute('cy', cy); h.setAttribute('r', 11.7);
      h.setAttribute('fill', 'url(#head)');
      lip.appendChild(h);
    });
  }
});
</script>
</body>
</html>
